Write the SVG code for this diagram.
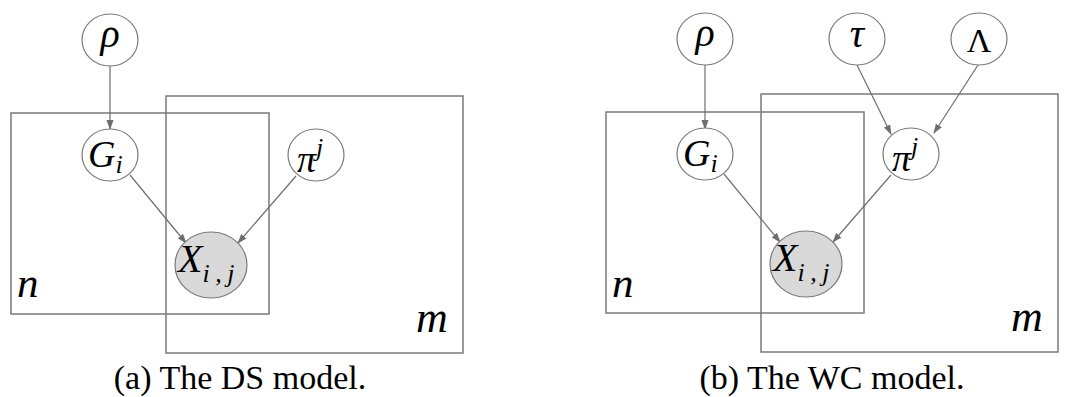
<svg xmlns="http://www.w3.org/2000/svg" width="1071" height="397" viewBox="0 0 1071 397">
<defs>
<style>
.plate{fill:none;stroke:#7a7a7a;stroke-width:1.5}
.node{fill:#fff;stroke:#7a7a7a;stroke-width:1.2}
.obs{fill:#d9d9d9;stroke:#7a7a7a;stroke-width:1.2}
.edge{stroke:#6e6e6e;stroke-width:1.2;fill:none;marker-end:url(#arr)}
.m{font-family:"Liberation Serif","DejaVu Serif",serif;font-style:italic;fill:#000}
.up{font-family:"Liberation Serif","DejaVu Serif",serif;fill:#000}
.cap{font-family:"Liberation Serif","Times New Roman",serif;font-size:34px;fill:#000;text-anchor:middle}
</style>
<marker id="arr" markerWidth="10" markerHeight="8" refX="9" refY="4" orient="auto" markerUnits="userSpaceOnUse">
<path d="M0,0.5 L10,4 L0,7.5 Z" fill="#6e6e6e"/>
</marker>
</defs>
<g id="plates-a">
<rect class="plate" x="11" y="113" width="258" height="201"/>
<rect class="plate" x="166" y="96" width="297" height="257"/>
<text class="m" x="17" y="297" font-size="43">n</text>
<text class="m" x="416" y="332" font-size="44">m</text>
</g>
<g id="plates-b">
<rect class="plate" x="606" y="112" width="258" height="201"/>
<rect class="plate" x="761" y="94" width="297" height="258"/>
<text class="m" x="612" y="297" font-size="43">n</text>
<text class="m" x="1011" y="331" font-size="44">m</text>
</g>
<g id="edges">
<line class="edge" x1="110" y1="66" x2="110" y2="129"/>
<line class="edge" x1="130" y1="175" x2="186" y2="243"/>
<line class="edge" x1="296" y1="176" x2="238" y2="243"/>
<line class="edge" x1="705" y1="65" x2="705" y2="129"/>
<line class="edge" x1="724" y1="174" x2="780" y2="242"/>
<line class="edge" x1="891" y1="175" x2="833" y2="242"/>
<line class="edge" x1="857" y1="65" x2="891" y2="134"/>
<line class="edge" x1="978" y1="65" x2="934" y2="133"/>
</g>
<g id="a-rho">
<ellipse class="node" cx="110" cy="40" rx="28" ry="26"/>
<text class="m" x="110" y="47" font-size="40" text-anchor="middle">ρ</text>
</g>
<g id="a-G">
<ellipse class="node" cx="110" cy="155" rx="28" ry="26"/>
<text class="m" x="88" y="167" font-size="38">G<tspan font-size="26" dy="6">i</tspan></text>
</g>
<g id="a-pi">
<ellipse class="node" cx="316" cy="155" rx="28" ry="26"/>
<text class="m" x="297" y="172" font-size="38">π<tspan font-size="26" dy="-16">j</tspan></text>
</g>
<g id="a-X">
<ellipse class="obs" cx="211" cy="265" rx="36" ry="33"/>
<text class="m" x="178" y="272" font-size="40">X<tspan font-size="26" dy="10" textLength="32">i,j</tspan></text>
</g>
<g id="b-rho">
<ellipse class="node" cx="705" cy="39" rx="28" ry="26"/>
<text class="m" x="705" y="46" font-size="40" text-anchor="middle">ρ</text>
</g>
<g id="b-tau">
<ellipse class="node" cx="857" cy="39" rx="28" ry="26"/>
<text class="m" x="857" y="47" font-size="40" text-anchor="middle">τ</text>
</g>
<g id="b-Lambda">
<ellipse class="node" cx="979" cy="39" rx="28" ry="26"/>
<text class="up" x="979" y="52" font-size="34" text-anchor="middle">Λ</text>
</g>
<g id="b-G">
<ellipse class="node" cx="705" cy="154" rx="28" ry="26"/>
<text class="m" x="683" y="166" font-size="38">G<tspan font-size="26" dy="6">i</tspan></text>
</g>
<g id="b-pi">
<ellipse class="node" cx="911" cy="154" rx="28" ry="26"/>
<text class="m" x="892" y="171" font-size="38">π<tspan font-size="26" dy="-16">j</tspan></text>
</g>
<g id="b-X">
<ellipse class="obs" cx="806" cy="264" rx="36" ry="33"/>
<text class="m" x="773" y="271" font-size="40">X<tspan font-size="26" dy="10" textLength="32">i,j</tspan></text>
</g>
<g id="captions">
<text class="cap" x="240" y="389">(a) The DS model.</text>
<text class="cap" x="832" y="389">(b) The WC model.</text>
</g>
</svg>
